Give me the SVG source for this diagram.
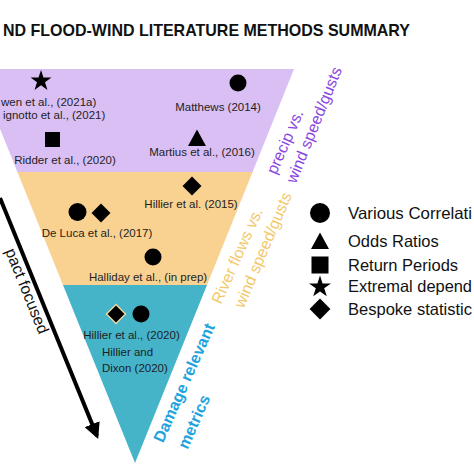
<svg xmlns="http://www.w3.org/2000/svg" width="474" height="474" viewBox="0 0 474 474">
<style>
.lbl{font-family:"Liberation Sans",Arial,sans-serif;font-size:11.5px;fill:#1e1e1e}
.side{font-family:"Liberation Sans",Arial,sans-serif;font-size:16px}
.leg{font-family:"Liberation Sans",Arial,sans-serif;font-size:16.5px;fill:#111}
.sym{fill:#000}
</style>
<defs>
<polygon id="star" points="0,-11 2.47,-3.4 10.46,-3.4 3.99,1.3 6.47,8.9 0,4.2 -6.47,8.9 -3.99,1.3 -10.46,-3.4 -2.47,-3.4"/>
<polygon id="dia" points="0,-9.5 9.5,0 0,9.5 -9.5,0"/>
<polygon id="tri" points="0,-8.5 9,8 -9,8"/>
<marker id="ah" viewBox="0 0 10 10" refX="8" refY="5" markerWidth="4" markerHeight="4" orient="auto" markerUnits="strokeWidth">
<path d="M0,0 L10,5 L0,10 Z" fill="#000"/>
</marker>
</defs>
<rect width="474" height="474" fill="#fff"/>
<text x="3" y="36" font-family="'Liberation Sans',Arial,sans-serif" font-weight="bold" font-size="17" fill="#111" textLength="407" lengthAdjust="spacingAndGlyphs">ND FLOOD-WIND LITERATURE METHODS SUMMARY</text>

<g id="band-purple">
<polygon points="-24,69 294,69 252.6,172 17.4,172" fill="#dabff4"/>
</g>
<g id="band-orange">
<polygon points="17.4,172 252.6,172 207,285 63,285" fill="#f9d292"/>
</g>
<g id="band-teal">
<polygon points="63,285 207,285 135,463" fill="#45b4c9"/>
</g>

<g id="owen-vignotto">
<use href="#star" x="41" y="81" class="sym"/>
<text class="lbl" x="1" y="106">wen et al., (2021a)</text>
<text class="lbl" x="3" y="119">ignotto et al., (2021)</text>
</g>
<g id="matthews">
<circle cx="238" cy="83" r="8.5" class="sym"/>
<text class="lbl" x="218" y="111" text-anchor="middle">Matthews (2014)</text>
</g>
<g id="ridder">
<rect x="45" y="132" width="15" height="15" class="sym"/>
<text class="lbl" x="65" y="164" text-anchor="middle">Ridder et al., (2020)</text>
</g>
<g id="martius">
<use href="#tri" x="197" y="138" class="sym"/>
<text class="lbl" x="202" y="156" text-anchor="middle">Martius et al., (2016)</text>
</g>
<g id="hillier2015">
<use href="#dia" x="192" y="186" class="sym"/>
<text class="lbl" x="191" y="208" text-anchor="middle">Hillier et al. (2015)</text>
</g>
<g id="deluca">
<circle cx="77.5" cy="212" r="9" class="sym"/>
<use href="#dia" x="101" y="213" class="sym"/>
<text class="lbl" x="97" y="237" text-anchor="middle">De Luca et al., (2017)</text>
</g>
<g id="halliday">
<circle cx="153" cy="257" r="8.5" class="sym"/>
<text class="lbl" x="148" y="281" text-anchor="middle">Halliday et al., (in prep)</text>
</g>
<g id="hillier2020">
<use href="#dia" x="116" y="314" class="sym" stroke="#e8d7a0" stroke-width="1.5"/>
<circle cx="141" cy="314" r="8.5" class="sym"/>
<text class="lbl" x="131.5" y="339" text-anchor="middle">Hillier et al., (2020)</text>
<text class="lbl" x="102" y="356">Hillier and</text>
<text class="lbl" x="102" y="372">Dixon (2020)</text>
</g>

<g id="label-precip" fill="#8a45e0">
<text class="side" transform="translate(290,144) rotate(-66)" text-anchor="middle">precip vs.</text>
<text class="side" transform="translate(319,127) rotate(-68)" text-anchor="middle">wind speed/gusts</text>
</g>
<g id="label-river" fill="#f3c96c">
<text class="side" transform="translate(242,258) rotate(-66)" text-anchor="middle">River flows vs.</text>
<text class="side" transform="translate(268,252) rotate(-67)" text-anchor="middle">wind speed/gusts</text>
</g>
<g id="label-damage" fill="#1ea3de">
<text class="side" font-weight="bold" transform="translate(189,385) rotate(-66)" text-anchor="middle">Damage relevant</text>
<text class="side" font-weight="bold" transform="translate(199,424) rotate(-66)" text-anchor="middle">metrics</text>
</g>

<g id="connectors">
<line x1="0" y1="198" x2="97" y2="436" stroke="#000" stroke-width="4" marker-end="url(#ah)"/>
</g>
<g id="label-impact">
<text class="side" fill="#111" font-size="17.5" transform="translate(5,251) rotate(68)">pact focused</text>
</g>

<g id="legend">
<circle cx="320" cy="213" r="10" class="sym"/>
<text class="leg" x="348" y="219" textLength="124" lengthAdjust="spacingAndGlyphs">Various Correlati</text>
<use href="#tri" x="320" y="241" class="sym"/>
<text class="leg" x="348" y="247">Odds Ratios</text>
<rect x="311.5" y="256.5" width="17" height="17" class="sym"/>
<text class="leg" x="348" y="271">Return Periods</text>
<use href="#star" x="320" y="287" class="sym" transform="translate(320,287) scale(1.05) translate(-320,-287)"/>
<text class="leg" x="348" y="292" textLength="124" lengthAdjust="spacingAndGlyphs">Extremal depend</text>
<use href="#dia" x="320" y="309" class="sym" transform="translate(320,309) scale(1.1) translate(-320,-309)"/>
<text class="leg" x="348" y="315" textLength="124" lengthAdjust="spacingAndGlyphs">Bespoke statistic</text>
</g>
</svg>
